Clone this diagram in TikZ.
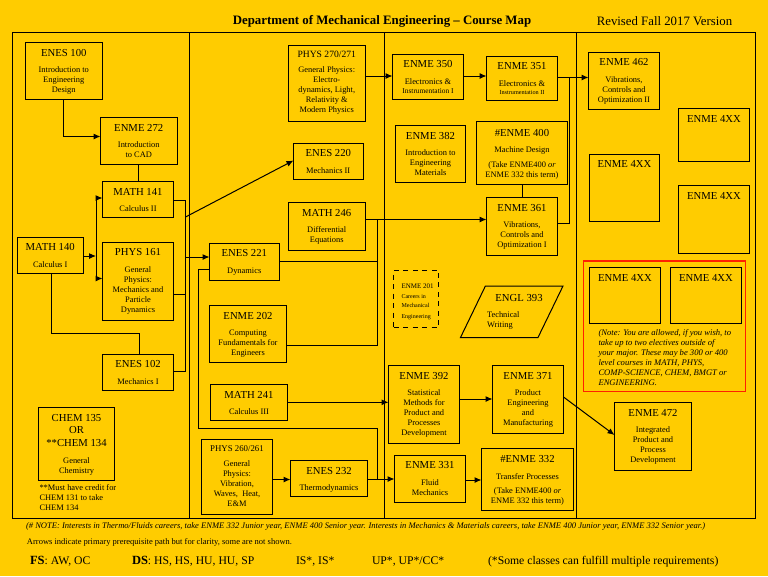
\documentclass[tikz,border=0pt]{standalone}
\usepackage{fontspec}
\setmainfont{Liberation Serif}
\usetikzlibrary{arrows.meta}
\definecolor{bgy}{HTML}{FFCC00}
\definecolor{redb}{HTML}{FF2000}
\newcommand\crsT[1]{{\fontsize{10.7}{12}\selectfont #1\par}\vspace{6.5pt}}
\newcommand\crsS[2]{{\fontsize{#1}{11}\selectfont #2\par}\vspace{5pt}}
\newcommand\crsB[1]{{\fontsize{8.4}{10}\selectfont #1\par}}
\newcommand\cbox[7]{\node[cbox,at={(#3,#4)}] (#1) {\parbox[t][#6pt][t]{#5pt}{\centering\vspace*{\dimexpr#2pt+1.5pt\relax}#7}};}
\tikzset{
 cbox/.style={draw=black,line width=1pt,anchor=north west,inner sep=0pt,outer sep=0pt,text=black},
 link/.style={draw=black,line width=1pt},
 arr/.style={link,-{Latex[length=7pt,width=6pt]}},
 frame/.style={draw=black,line width=1pt},
 txt/.style={inner sep=0pt,outer sep=0pt,anchor=base west,text=black},
}
\begin{document}
\begin{tikzpicture}[x=1pt,y=-1pt]
\path[fill=bgy,use as bounding box] (0,0) rectangle (768,576);
% frames
\node[frame,draw,anchor=north west,inner sep=0pt,outer sep=0pt,minimum width=742.5pt,minimum height=486pt] (outer) at (12.5,32.5) {};
\coordinate (v1t) at (189.5,32.5); \coordinate (v1b) at (189.5,518.5);
\coordinate (v2t) at (384.5,32.5); \coordinate (v2b) at (384.5,518.5);
\coordinate (v3t) at (576.5,32.5); \coordinate (v3b) at (576.5,518.5);
\draw[frame] (v1t)--(v1b); \draw[frame] (v2t)--(v2b); \draw[frame] (v3t)--(v3b);
% headings
\node[txt,anchor=base] (title) at (382,24.5) {\fontsize{12.85}{14}\selectfont\bfseries Department of Mechanical Engineering -- Course Map};
\node[txt,anchor=base] (rev) at (664.5,25) {\fontsize{12.8}{14}\selectfont Revised Fall 2017 Version};
% column 1
\cbox{enesA}{5}{25.5}{42.5}{76.5}{56.5}{\crsT{ENES 100}\crsB{Introduction to\\Engineering\\Design}}
\cbox{enmeB}{5}{100.5}{117.5}{76.5}{46.5}{\crsT{ENME 272}\crsB{Introduction\\to CAD}}
\cbox{mathA}{5}{102.5}{181.5}{71}{36}{\crsT{MATH 141}\crsB{Calculus II}}
\cbox{mathB}{5}{17.5}{237}{65.5}{36}{\crsT{MATH 140}\crsB{Calculus I}}
\cbox{physA}{5}{102.5}{242}{71}{78}{\crsT{PHYS 161}\crsB{General\\Physics:\\Mechanics and\\Particle\\Dynamics}}
\cbox{enesB}{5}{102.5}{354}{71}{36}{\crsT{ENES 102}\crsB{Mechanics I}}
\cbox{chem}{5}{38.5}{407.5}{76}{72.5}{{\fontsize{10.7}{12.8}\selectfont CHEM 135\\OR\\{}**CHEM 134\par}\vspace{7pt}\crsB{General\\Chemistry}}
\node[txt,anchor=north west,align=left,font=\fontsize{8.4}{10}\selectfont] (chemn) at (39.5,484.5) {**Must have credit for\\CHEM 131 to take\\CHEM 134};
% column 2
\cbox{physB}{5}{288.5}{45}{76.5}{76.5}{\crsS{9.6}{PHYS 270/271}\crsB{General Physics:\\Electro-\\dynamics, Light,\\Relativity \&\\Modern Physics}}
\cbox{enesC}{5}{293.5}{143}{69.5}{36}{\crsT{ENES 220}\crsB{Mechanics II}}
\cbox{mathC}{5}{288.5}{202.5}{76.5}{47.5}{\crsT{MATH 246}\crsB{Differential\\Equations}}
\cbox{enesD}{5}{209.5}{243}{69.5}{37}{\crsT{ENES 221}\crsB{Dynamics}}
\cbox{enmeC}{5}{209.5}{305.5}{77}{56.5}{\crsT{ENME 202}\crsB{Computing\\Fundamentals for\\Engineers}}
\cbox{mathD}{5}{210.5}{384.5}{77}{36}{\crsT{MATH 241}\crsB{Calculus III}}
\cbox{physC}{5}{201.5}{439}{71}{75.5}{\crsS{8.8}{PHYS 260/261}\crsB{General\\Physics:\\Vibration,\\Waves,\ \ Heat,\\E\&M}}
\cbox{enesE}{5}{290.5}{460.5}{77}{36}{\crsT{ENES 232}\crsB{Thermodynamics}}
% column 3
\cbox{enmeD}{5}{392.5}{54}{71}{45}{\crsT{ENME 350}{\fontsize{8.4}{10}\selectfont Electronics \&\\\fontsize{7.4}{9}\selectfont Instrumentation I\par}}
\cbox{enmeE}{5}{486.5}{56}{71}{44.5}{\crsT{ENME 351}{\fontsize{8.4}{10}\selectfont Electronics \&\\\fontsize{6.2}{8}\selectfont Instrumentation II\par}}
\cbox{enmeF}{5}{395.5}{125.5}{70}{57}{\crsT{ENME 382}\crsB{Introduction to\\Engineering\\Materials}}
\cbox{enmeG}{6}{476.5}{121.5}{91}{63}{\crsT{\#ENME 400}\crsB{Machine Design\\[4.5pt](Take ENME400 \textit{or}\\ENME 332 this term)}}
\cbox{enmeH}{5}{486.5}{197.5}{71}{58}{\crsT{ENME 361}\crsB{Vibrations,\\Controls and\\Optimization I}}
\node[cbox,minimum width=45pt,minimum height=57.5pt,dash pattern=on 5pt off 4.5pt] (enmeI) at (393.5,270) {};
\node[txt] (enmeIt) at (401.5,288) {\fontsize{7}{8}\selectfont ENME 201};
\node[txt] (enmeIa) at (401.5,298.5) {\fontsize{6}{8}\selectfont Careers in};
\node[txt] (enmeIb) at (401.5,307) {\fontsize{6}{8}\selectfont Mechanical};
\node[txt] (enmeIc) at (401.5,318) {\fontsize{6}{8}\selectfont Engineering};
\draw[link] (485.4,286) -- (563,286) -- (538,337.5) -- (460.5,337.5) -- cycle;
\node[txt,anchor=base] (englT) at (519,301) {\fontsize{10.7}{12}\selectfont ENGL 393};
\node[txt,anchor=north west,align=left,font=\fontsize{8.4}{10}\selectfont] (englB) at (487,312) {Technical\\Writing};
\cbox{enmeJ}{5}{388.5}{365.5}{71}{77.5}{\crsT{ENME 392}\crsB{Statistical\\Methods for\\Product and\\Processes\\Development}}
\cbox{enmeK}{5}{492.5}{365.5}{71}{67.5}{\crsT{ENME 371}\crsB{Product\\Engineering\\and\\Manufacturing}}
\cbox{enmeL}{5}{394.5}{455}{71}{47}{\crsT{ENME 331}\crsB{Fluid\\Mechanics}}
\cbox{enmeM}{6}{481.5}{448}{92}{62.5}{\crsT{\#ENME 332}\crsB{Transfer Processes\\[4.5pt](Take ENME400 \textit{or}\\ENME 332 this term)}}
% column 4
\cbox{enmeN}{5}{588.5}{52}{71}{57.5}{\crsT{ENME 462}\crsB{Vibrations,\\Controls and\\Optimization II}}
\cbox{xa}{5}{678.5}{108.5}{71}{52.5}{\crsT{ENME 4XX}}
\cbox{xb}{5}{589.5}{154}{70}{67.5}{\crsT{ENME 4XX}}
\cbox{xc}{5}{678.5}{185.5}{71}{67.5}{\crsT{ENME 4XX}}
\node[cbox,draw=redb,line width=1.5pt,minimum width=162pt,minimum height=130.5pt] (redbox) at (583.5,261) {};
\cbox{xd}{5}{589.5}{267.5}{71}{56}{\crsT{ENME 4XX}}
\cbox{xe}{5}{670.5}{267.5}{71}{55.5}{\crsT{ENME 4XX}}
\node[txt,anchor=north west,align=left,font=\fontsize{8.6}{10}\selectfont\itshape] (rednote) at (598.5,329.5) {(Note: You are allowed, if you wish, to\\take up to two electives outside of\\your major. These may be 300 or 400\\level courses in MATH, PHYS,\\COMP-SCIENCE, CHEM, BMGT or\\ENGINEERING.};
\cbox{enmeO}{5}{614.5}{402.5}{77}{68}{\crsT{ENME 472}\crsB{Integrated\\Product and\\Process\\Development}}
% connectors
\coordinate (j1) at (63.5,136.5);
\draw[arr] (enesA.south -| j1) -- (j1) -- (enmeB.west |- j1);
\draw[link] (enmeB.south -| mathA.north) -- (mathA.north);
\coordinate (b1) at (96,198); \coordinate (b2) at (96,278.5); \coordinate (b3) at (96,256);
\draw[link] (b1) -- (b2);
\draw[arr] (b1) -- (mathA.west |- b1);
\draw[arr] (b2) -- (physA.west |- b2);
\draw[arr] (mathB.east |- b3) -- (b3);
\coordinate (c1) at (51,333.5); \coordinate (c2) at (139,333.5);
\draw[link] (mathB.south -| c1) -- (c1) -- (c2) -- (enesB.north -| c2);
\coordinate (d1) at (185.5,200.5); \coordinate (d2) at (185.5,371); \coordinate (d3) at (185.5,294);
\draw[link] (mathA.east |- d1) -- (d1) -- (d2) -- (enesB.east |- d2);
\draw[link] (physA.east |- d3) -- (d3);
\coordinate (d4) at (185.5,217); \coordinate (d5) at (185.5,257);
\draw[arr] (d4) -- (enesC.west |- 0,160.5);
\draw[arr] (d5) -- (enesD.west |- d5);
\coordinate (e1) at (198,269); \coordinate (e2) at (198,428.7); \coordinate (e3) at (377.5,428.7); \coordinate (e4) at (377.5,479);
\draw[link] (enesD.west |- e1) -- (e1) -- (e2) -- (e3) -- (e4);
\draw[arr] (enesE.east |- e4) -- (enmeL.west |- e4);
\coordinate (f0) at (377.5,219.5); \coordinate (f1) at (377.5,261.7); \coordinate (f2) at (377.5,345.7);
\draw[arr] (mathC.east |- f0) -- (enmeH.west |- f0);
\draw[link] (f0) -- (f2) -- (enmeC.east |- f2);
\draw[link] (enesD.east |- f1) -- (f1);
\draw[arr] (mathD.east |- 0,402.3) -- (enmeJ.west |- 0,402.3);
\draw[arr] (physB.east |- 0,76) -- (enmeD.west |- 0,76);
\draw[arr] (enmeD.east |- 0,76) -- (enmeE.west |- 0,76);
\coordinate (g1) at (569.5,77.5); \coordinate (g2) at (569.5,223.5);
\draw[arr] (enmeE.east |- g1) -- (enmeN.west |- g1);
\draw[link] (enmeH.east |- g2) -- (g2) -- (g1);
\draw[link] (enmeG.south -| 522,0) -- (enmeH.north -| 522,0);
\draw[arr] (enmeJ.east |- 0,399) -- (enmeK.west |- 0,399);
\draw[arr] (enmeK.east |- 0,397) -- (enmeO.west |- 0,435);
\draw[arr] (physC.east |- 0,479.5) -- (enesE.west |- 0,479.5);
\draw[arr] (enmeL.east |- 0,480) -- (enmeM.west |- 0,480);
% footer
\node[txt] (n1) at (26,528) {\fontsize{8.55}{9}\selectfont\itshape (\# NOTE: Interests in Thermo/Fluids careers, take ENME 332 Junior year, ENME 400 Senior year. Interests in Mechanics \& Materials careers, take ENME 400 Junior year, ENME 332 Senior year.)};
\node[txt] (n2) at (27,544) {\fontsize{8.5}{9}\selectfont Arrows indicate primary prerequisite path but for clarity, some are not shown.};
\node[txt] (r1) at (30,564) {\fontsize{11.7}{12}\selectfont{\fontsize{12.5}{12}\selectfont\bfseries FS}: AW, OC};
\node[txt] (r2) at (132,564) {\fontsize{11.7}{12}\selectfont{\fontsize{12.5}{12}\selectfont\bfseries DS}: HS, HS, HU, HU, SP};
\node[txt] (r3) at (296,564) {\fontsize{11.7}{12}\selectfont IS*, IS*};
\node[txt] (r4) at (372,564) {\fontsize{11.7}{12}\selectfont UP*, UP*/CC*};
\node[txt] (r5) at (488,564) {\fontsize{11.7}{12}\selectfont (*Some classes can fulfill multiple requirements)};
\end{tikzpicture}
\end{document}
